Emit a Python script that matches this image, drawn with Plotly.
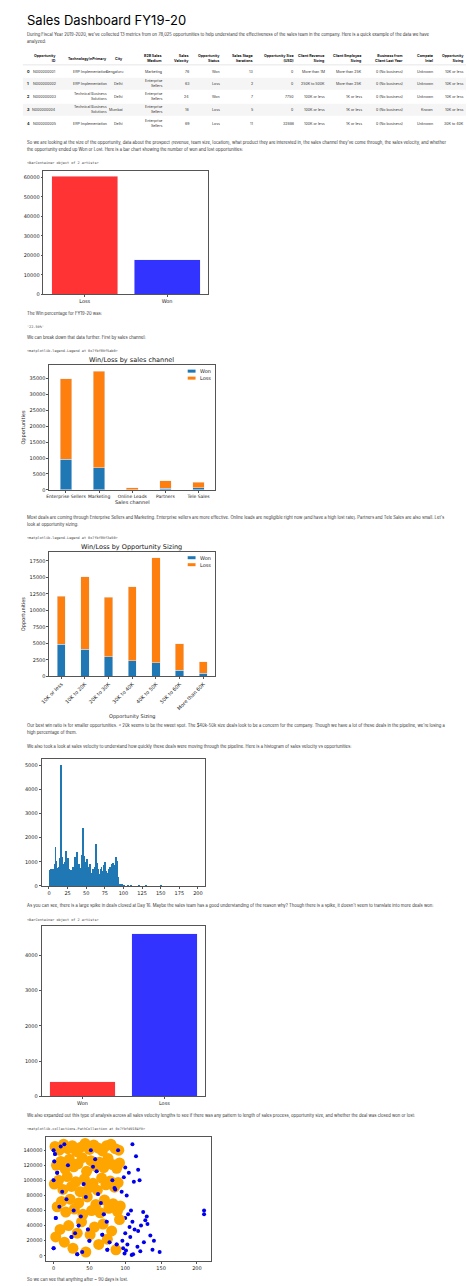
import plotly.graph_objects as go

W, H = 474, 1280
def fy(p): return 1 - p / H
def fx(p): return p / W

# ---------- data ----------
tbl_headers = ["", "Opportunity<br>ID", "Technology\\nPrimary", "City", "B2B Sales<br>Medium", "Sales<br>Velocity",
               "Opportunity<br>Status", "Sales Stage<br>Iterations", "Opportunity Size<br>(USD)", "Client Revenue<br>Sizing",
               "Client Employee<br>Sizing", "Business from<br>Client Last Year", "Compete<br>Intel", "Opportunity<br>Sizing"]
tbl_index = ["0", "1", "2", "3", "4"]
tbl_id = ["N000000001", "N000000002", "N000000003", "N000000004", "N000000005"]
tbl_tech = ["ERP Implementation", "ERP Implementation", "Technical Business<br>Solutions", "Technical Business<br>Solutions", "ERP Implementation"]
tbl_city = ["Bengaluru", "Delhi", "Delhi", "Mumbai", "Delhi"]
tbl_medium = ["Marketing", "Enterprise<br>Sellers", "Enterprise<br>Sellers", "Enterprise<br>Sellers", "Enterprise<br>Sellers"]
tbl_velocity = [76, 63, 24, 16, 69]
tbl_status = ["Won", "Loss", "Won", "Loss", "Loss"]
tbl_iter = [13, 2, 7, 5, 11]
tbl_size = [0, 0, 7750, 0, 32886]
tbl_rev = ["More than 1M", "250K to 500K", "100K or less", "100K or less", "100K or less"]
tbl_emp = ["More than 25K", "More than 25K", "1K or less", "1K or less", "1K or less"]
tbl_biz = ["0 (No business)"] * 5
tbl_intel = ["Unknown", "Unknown", "Unknown", "Known", "Unknown"]
tbl_sizing = ["10K or less", "10K or less", "10K or less", "10K or less", "30K to 40K"]

wl_cats = ["Loss", "Won"]
wl_vals = [60400, 17600]

ch_cats = ["Enterprise Sellers", "Marketing", "Online Leads", "Partners", "Tele Sales"]
ch_won = [9600, 7000, 100, 500, 600]
ch_loss = [25300, 30300, 500, 2300, 1800]

sz_cats = ["10K or less", "10K to 20K", "20K to 30K", "30K to 40K", "40K to 50K", "50K to 60K", "More than 60K"]
sz_won = [4850, 4100, 2950, 2400, 2100, 900, 450]
sz_loss = [7300, 11000, 9050, 11200, 15900, 4050, 1750]

hist_days = list(range(0, 101)) + [105, 110, 120, 130, 150, 210]
hist_counts = [0, 650, 700, 680, 720, 650, 700, 900, 1600, 1050, 750, 700, 800, 700, 1150, 800, 5000, 1200, 900, 700,
               800, 1000, 1450, 1250, 1100, 1150, 700, 500, 420, 650, 600, 750, 800, 700, 1200, 1000, 900, 1400, 800, 700,
               900, 750, 600, 700, 1300, 2400, 1250, 900, 800, 1000, 1100, 650, 600, 800, 900, 700, 550, 450, 700, 600,
               650, 800, 1100, 1750, 950, 700, 600, 500, 450, 700, 800, 600, 550, 850, 950, 1000, 600, 550, 500, 450,
               700, 800, 600, 650, 900, 950, 750, 700, 850, 1200, 800, 1050, 350, 80, 60, 50, 40, 30, 25, 20,
               15, 8, 6, 4, 3, 2, 2]

wl2_cats = ["Won", "Loss"]
wl2_vals = [420, 4600]

sc_loss_x = [110, 115, 118, 120, 100, 105, 112, 98, 102, 108, 125, 130, 128, 135, 140, 148, 138, 122, 118, 110,
             104, 100, 96, 97, 99, 103, 107, 113, 117, 121, 126, 131, 210, 210, 100, 106, 111, 95, 101, 109,
             2, 5, 12, 20, 28, 35, 42, 50, 58, 66, 74, 82, 88, 3, 15, 30, 45, 60, 75, 90,
             8, 25, 40, 55, 70, 85, 0, 10, 33, 48, 62, 78, 1, 18, 38, 52, 68, 86, 0, 0]
sc_loss_y = [148000, 132000, 114000, 100000, 117000, 110000, 98000, 104000, 80000, 60000, 58000, 52000, 47000,
             27000, 20000, 5000, 8000, 40000, 33000, 45000, 55000, 30000, 20000, 10000, 3000, 15000, 25000, 35000,
             12000, 6000, 18000, 42000, 60000, 55000, 50000, 38000, 2000, 85000, 7000, 1000,
             135000, 110000, 85000, 120000, 60000, 40000, 95000, 20000, 128000, 70000, 45000, 100000, 15000,
             50000, 148000, 30000, 78000, 112000, 8000, 140000, 65000, 25000, 5000, 118000, 55000, 90000, 10000,
             145000, 2000, 35000, 82000, 18000, 125000, 75000, 52000, 140000, 28000, 88000, 100000, 140000]
sc_won_x = [2, 8, 14, 20, 26, 32, 38, 44, 50, 56, 62, 68, 74, 80, 86, 91,
            4, 10, 16, 22, 28, 34, 40, 46, 52, 58, 64, 70, 76, 82, 88, 92,
            1, 7, 13, 19, 25, 31, 37, 43, 49, 55, 61, 67, 73, 79, 85, 90,
            5, 11, 17, 23, 29, 35, 41, 47, 53, 59, 65, 71, 77, 83, 89, 93,
            3, 9, 15, 21, 27, 33, 39, 45, 51, 57, 63, 69, 75, 81, 87, 92]
sc_won_y = [145000, 140000, 148000, 142000, 146000, 138000, 144000, 149000, 141000, 147000, 143000, 139000, 146000, 148000, 142000, 140000,
            120000, 125000, 115000, 128000, 118000, 122000, 130000, 112000, 126000, 119000, 124000, 117000, 129000, 121000, 116000, 123000,
            95000, 100000, 88000, 105000, 92000, 98000, 85000, 102000, 90000, 96000, 87000, 103000, 94000, 99000, 91000, 97000,
            65000, 72000, 58000, 75000, 62000, 70000, 55000, 78000, 60000, 68000, 57000, 74000, 63000, 69000, 59000, 66000,
            25000, 35000, 18000, 40000, 10000, 30000, 45000, 5000, 28000, 38000, 15000, 42000, 22000, 33000, 8000, 48000]

# ---------- figure ----------
fig = go.Figure()
AX = dict(showline=True, linecolor="#555", linewidth=0.8, mirror=True, ticks="outside", ticklen=2,
          tickcolor="#555", tickfont=dict(size=5, color="#222"), showgrid=False, zeroline=False)
YAX = dict(AX, tickformat="d")

def dom(x0, x1, y0, y1):
    return [fx(x0), fx(x1)], [fy(y1), fy(y0)]

def txt(x, y, t, size=4.2, color="#333", anchor="left", fam="Inter"):
    fig.add_annotation(xref="paper", yref="paper", x=fx(x), y=fy(y), text=t, showarrow=False,
                       xanchor=anchor, yanchor="middle", font=dict(size=size, color=color, family=fam))

# ---- table drawn as text ----
col_right = [8, 42, 94, 110, 150, 177, 209, 243, 284, 316, 354, 396, 426, 458]
row_y = [64, 76, 89, 102, 116]
for r in (1, 3):
    fig.add_shape(type="rect", xref="paper", yref="paper", x0=fx(6), x1=fx(462),
                  y0=fy(row_y[r] + 6), y1=fy(row_y[r] - 6), fillcolor="#f5f5f5", line_width=0, layer="below")
fig.add_shape(type="line", xref="paper", yref="paper", x0=fx(6), x1=fx(462), y0=fy(57), y1=fy(57),
              line=dict(color="#ccc", width=0.5))
cols = [tbl_index, tbl_id, tbl_tech, tbl_city, tbl_medium, tbl_velocity, tbl_status, tbl_iter,
        tbl_size, tbl_rev, tbl_emp, tbl_biz, tbl_intel, tbl_sizing]
for ci, (xr, h, col) in enumerate(zip(col_right, tbl_headers, cols)):
    if h:
        fig.add_annotation(xref="paper", yref="paper", x=fx(xr), y=fy(51), text="<b>%s</b>" % h, showarrow=False,
                           xanchor="right", yanchor="middle", align="right",
                           font=dict(size=3.6, color="#111", family="Inter"))
    for ri, v in enumerate(col):
        if ci == 0:
            fig.add_annotation(xref="paper", yref="paper", x=fx(8), y=fy(row_y[ri]), text="<b>%s</b>" % v,
                               showarrow=False, xanchor="left", yanchor="middle",
                               font=dict(size=3.8, color="#111", family="Inter"))
        else:
            fig.add_annotation(xref="paper", yref="paper", x=fx(xr), y=fy(row_y[ri]), text=str(v),
                               showarrow=False, xanchor="right", yanchor="middle", align="right",
                               font=dict(size=3.6, color="#333", family="Inter"))

# chart 1
xd, yd = dom(27, 195, 163, 287)
fig.add_trace(go.Bar(x=wl_cats, y=wl_vals, marker=dict(color=["#ff3333", "#3333ff"]), width=0.8,
                     xaxis="x", yaxis="y", showlegend=False))
fig.update_layout(xaxis=dict(domain=xd, anchor="y", **AX),
                  yaxis=dict(domain=yd, anchor="x", range=[0, 63400], dtick=10000, **YAX))

# chart 2
xd, yd = dom(33, 202, 358, 483)
fig.add_trace(go.Bar(x=ch_cats, y=ch_won, name="Won", marker_color="#1f77b4", width=0.35, xaxis="x2", yaxis="y2", showlegend=False))
fig.add_trace(go.Bar(x=ch_cats, y=ch_loss, name="Loss", marker_color="#ff7f0e", width=0.35, xaxis="x2", yaxis="y2", showlegend=False))
AX2 = dict(AX, tickfont=dict(size=4.5, color="#222"))
fig.update_layout(xaxis2=dict(domain=xd, anchor="y2", tickangle=0,
                              title=dict(text="Sales channel", font=dict(size=5), standoff=1), **AX2),
                  yaxis2=dict(domain=yd, anchor="x2", range=[0, 39200], dtick=5000,
                              title=dict(text="Opportunities", font=dict(size=5), standoff=3), **YAX))

# chart 3
xd, yd = dom(33, 202, 545, 670)
fig.add_trace(go.Bar(x=sz_cats, y=sz_won, name="Won", marker_color="#1f77b4", width=0.35, xaxis="x3", yaxis="y3", showlegend=False))
fig.add_trace(go.Bar(x=sz_cats, y=sz_loss, name="Loss", marker_color="#ff7f0e", width=0.35, xaxis="x3", yaxis="y3", showlegend=False))
fig.update_layout(xaxis3=dict(domain=xd, anchor="y3", tickangle=-45,
                              title=dict(text="Opportunity Sizing", font=dict(size=5), standoff=4), **AX),
                  yaxis3=dict(domain=yd, anchor="x3", range=[0, 18900], dtick=2500,
                              title=dict(text="Opportunities", font=dict(size=5), standoff=3), **YAX))

# histogram
xd, yd = dom(25, 192, 753, 880)
fig.add_trace(go.Bar(x=hist_days, y=hist_counts, width=1, marker=dict(color="#1f77b4", line=dict(width=0)),
                     xaxis="x4", yaxis="y4", showlegend=False))
fig.update_layout(xaxis4=dict(domain=xd, anchor="y4", range=[-10, 210], dtick=25, **AX),
                  yaxis4=dict(domain=yd, anchor="x4", range=[0, 5250], dtick=1000, **YAX))

# chart 5
xd, yd = dom(25, 192, 920, 1091)
fig.add_trace(go.Bar(x=wl2_cats, y=wl2_vals, marker=dict(color=["#ff3333", "#3333ff"]), width=0.8,
                     xaxis="x5", yaxis="y5", showlegend=False))
fig.update_layout(xaxis5=dict(domain=xd, anchor="y5", **AX),
                  yaxis5=dict(domain=yd, anchor="x5", range=[0, 4830], dtick=1000, **YAX))

# scatter
xd, yd = dom(30, 198, 1132, 1256)
fig.add_trace(go.Scatter(x=sc_loss_x, y=sc_loss_y, mode="markers", marker=dict(color="#0000ee", size=4),
                         xaxis="x6", yaxis="y6", showlegend=False))
fig.add_trace(go.Scatter(x=sc_won_x, y=sc_won_y, mode="markers", marker=dict(color="orange", size=11),
                         xaxis="x6", yaxis="y6", showlegend=False))
fig.add_trace(go.Scatter(x=sc_loss_x[40:], y=sc_loss_y[40:], mode="markers", marker=dict(color="#0000ee", size=4),
                         xaxis="x6", yaxis="y6", showlegend=False))
fig.update_layout(xaxis6=dict(domain=xd, anchor="y6", range=[-10, 220], dtick=50, **AX),
                  yaxis6=dict(domain=yd, anchor="x6", range=[-7000, 157000], dtick=20000, **YAX))

# legends
def legend(xr, ytop):
    for i, (lab, col) in enumerate([("Won", "#1f77b4"), ("Loss", "#ff7f0e")]):
        y = ytop + i * 7
        fig.add_shape(type="rect", xref="paper", yref="paper", x0=fx(xr), x1=fx(xr + 8), y0=fy(y + 1.5), y1=fy(y - 1.5),
                      fillcolor=col, line_width=0)
        txt(xr + 11, y, lab, size=5, color="#222", fam="DejaVu Sans")
legend(174, 364)
legend(174, 551)

TXT = [
    (27, "During Fiscal Year 2019-2020, we've collected 13 metrics from on 78,025 opportunities to help understand the effectiveness of the sales team in the company. Here is a quick example of the data we have"),
    (34, "analyzed:"),
    (135, "So we are looking at the size of the opportunity, data about the prospect (revenue, team size, location), what product they are interested in, the sales channel they've come through, the sales velocity, and whether"),
    (142, "the opportunity ended up Won or Lost. Here is a bar chart showing the number of won and lost opportunities:"),
    (306, "The Win percentage for FY19-20 was:"),
    (330, "We can break down that data further. First by sales channel:"),
    (511, "Most deals are coming through Enterprise Sellers and Marketing. Enterprise sellers are more effective. Online leads are negligible right now (and have a high lost rate). Partners and Tele Sales are also small. Let's"),
    (518, "look at opportunity sizing:"),
    (719, "Our best win ratio is for smaller opportunities. &lt; 20k seems to be the sweet spot. The $40k-50k size deals look to be a concern for the company. Though we have a lot of these deals in the pipeline, we're losing a"),
    (726, "high percentage of them."),
    (740, "We also took a look at sales velocity to understand how quickly these deals were moving through the pipeline. Here is a histogram of sales velocity vs opportunities:"),
    (900, "As you can see, there is a large spike in deals closed at Day 16. Maybe the sales team has a good understanding of the reason why? Though there is a spike, it doesn't seem to translate into more deals won:"),
    (1110, "We also expanded out this type of analysis across all sales velocity lengths to see if there was any pattern to length of sales process, opportunity size, and whether the deal was closed won or lost:"),
    (1274, "So we can see that anything after ~ 90 days is lost."),
]
for y, t in TXT:
    txt(8, y, t, size=4.2)
CODE = [(155, "<BarContainer object of 2 artists>"), (320, "'22.59%'"),
        (344, "<matplotlib.legend.Legend at 0x7fbf89f5ab0>"), (531, "<matplotlib.legend.Legend at 0x7fbf89f3e50>"),
        (914, "<BarContainer object of 2 artists>"), (1124, "<matplotlib.collections.PathCollection at 0x7fbfd9184f9>")]
for y, t in CODE:
    txt(8, y, t.replace("<", "&lt;").replace(">", "&gt;"), size=3.5, color="#444", fam="DejaVu Sans Mono")
txt(8, 12, "Sales Dashboard FY19-20", size=13, color="#000")
txt(117, 353, "Win/Loss by sales channel", size=6.5, color="#111", anchor="center", fam="DejaVu Sans")
txt(117, 540, "Win/Loss by Opportunity Sizing", size=6.5, color="#111", anchor="center", fam="DejaVu Sans")

fig.update_layout(width=W, height=H, margin=dict(l=0, r=0, t=0, b=0), paper_bgcolor="white", plot_bgcolor="white",
                  barmode="stack", bargap=0.2, font=dict(family="DejaVu Sans", size=5, color="#222"))
fig.write_html("out.html")
